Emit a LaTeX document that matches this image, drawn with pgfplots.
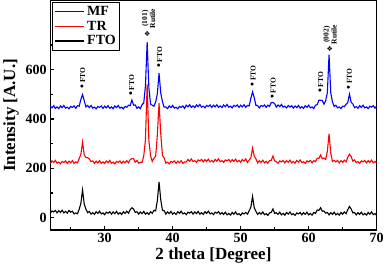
\documentclass[border=0pt]{standalone}
\usepackage{pgfplots}
\pgfplotsset{compat=1.18}
\usepackage{pgfplotstable}
\usepackage{fontspec}
\setmainfont{Liberation Serif}
\newfontfamily\symfont{DejaVu Sans}

\pgfplotstableread{
x mf tr fto
22.00 452 219 17
22.25 445 230 27
22.50 454 223 23
22.75 443 232 29
23.00 449 221 19
23.25 442 225 28
23.50 453 218 21
23.75 446 228 30
24.00 455 224 19
24.25 444 230 25
24.50 448 220 18
24.75 441 229 29
25.00 451 222 22
25.25 447 231 26
25.50 453 220 15
25.75 443 226 19
26.00 454 222 16
26.25 452 239 33
26.50 479 256 58
26.75 499 306 112
27.00 474 254 54
27.25 449 244 34
27.50 455 243 20
27.75 446 238 25
28.00 455 227 14
28.25 444 230 20
28.50 448 220 13
28.75 441 229 24
29.00 451 222 17
29.25 447 231 26
29.50 453 220 15
29.75 443 226 19
30.00 452 219 12
30.25 445 230 22
30.50 454 223 18
30.75 443 232 24
31.00 449 221 14
31.25 442 225 23
31.50 453 218 16
31.75 446 228 25
32.00 455 224 14
32.25 444 230 20
32.50 448 220 13
32.75 441 229 24
33.00 451 222 17
33.25 447 231 26
33.50 456 222 18
33.75 454 235 32
34.00 477 239 40
34.25 456 239 35
34.50 457 225 21
34.75 443 232 24
35.00 449 221 14
35.25 442 225 23
35.50 458 224 16
35.75 465 250 25
36.00 535 317 14
36.25 712 540 20
36.50 528 313 13
36.75 460 251 24
37.00 456 228 17
37.25 452 241 30
37.50 469 249 27
37.75 503 336 69
38.00 586 464 145
38.25 505 340 72
38.50 470 252 30
38.75 448 242 28
39.00 449 221 14
39.25 442 225 23
39.50 453 218 16
39.75 446 228 25
40.00 455 224 14
40.25 444 230 20
40.50 448 220 13
40.75 441 229 24
41.00 451 222 17
41.25 447 231 26
41.50 453 220 15
41.75 443 226 19
42.00 456 225 12
42.25 449 236 22
42.50 458 229 18
42.75 447 238 24
43.00 453 227 14
43.25 446 231 23
43.50 457 224 16
43.75 450 234 25
44.00 459 230 14
44.25 448 236 20
44.50 452 226 13
44.75 445 235 24
45.00 455 228 17
45.25 451 237 26
45.50 457 226 15
45.75 447 232 19
46.00 456 225 12
46.25 449 236 22
46.50 458 229 18
46.75 447 238 24
47.00 453 227 14
47.25 446 231 20
47.50 457 224 13
47.75 450 234 22
48.00 459 230 11
48.25 448 236 17
48.50 452 226 10
48.75 445 235 21
49.00 455 228 14
49.25 451 237 23
49.50 457 226 12
49.75 447 232 16
50.00 456 225 9
50.25 449 236 19
50.50 458 229 15
50.75 447 238 21
51.00 455 223 14
51.25 453 233 28
51.50 484 243 42
51.75 510 282 86
52.00 486 249 40
52.25 455 238 25
52.50 454 222 13
52.75 445 231 21
53.00 455 224 14
53.25 451 233 23
53.50 457 222 12
53.75 447 228 16
54.00 456 221 9
54.25 451 232 19
54.50 467 232 21
54.75 467 250 35
55.00 462 230 17
55.25 448 227 20
55.50 457 220 13
55.75 450 230 22
56.00 459 226 11
56.25 448 232 17
56.50 452 222 10
56.75 445 231 21
57.00 455 224 14
57.25 448 233 23
57.50 454 222 12
57.75 444 228 16
58.00 453 221 9
58.25 446 232 19
58.50 455 225 15
58.75 444 234 21
59.00 450 223 11
59.25 443 227 20
59.50 454 220 13
59.75 447 230 22
60.00 456 226 11
60.25 445 232 17
60.50 449 222 10
60.75 442 231 21
61.00 456 227 17
61.25 458 241 31
61.50 476 240 29
61.75 476 254 40
62.00 475 239 26
62.25 460 242 27
62.50 474 236 18
62.75 507 269 21
63.00 661 340 11
63.25 506 262 20
63.50 469 228 13
63.75 451 232 22
64.00 456 226 11
64.25 445 232 17
64.50 449 222 10
64.75 442 231 21
65.00 452 224 14
65.25 450 233 23
65.50 460 226 16
65.75 466 244 32
66.00 501 257 45
66.25 468 248 35
66.50 461 229 19
66.75 446 234 21
67.00 450 223 11
67.25 443 227 20
67.50 454 220 13
67.75 447 230 22
68.00 456 226 11
68.25 445 232 17
68.50 449 222 10
68.75 442 231 21
69.00 452 224 14
69.25 448 233 23
69.50 454 222 12
69.75 444 228 16
70.00 453 221 9
}\xrd

\begin{document}
\begin{tikzpicture}
\begin{axis}[
  scale only axis, width=326pt, height=229pt,
  xmin=22, xmax=70, ymin=-50, ymax=880,
  xtick={30,40,50,60,70}, minor xtick={25,35,45,55,65},
  ytick={0,200,400,600}, minor ytick={100,300,500,700},
  tick pos=left, tick align=inside,
  major tick length=4pt, minor tick length=2.5pt,
  axis line style={line width=1.3pt},
  every tick/.style={line width=1.1pt, black},
  ticklabel style={font=\fontsize{14}{14}\selectfont\bfseries},
  /pgf/number format/assume math mode=true,
  xlabel={2 theta [Degree]}, ylabel={Intensity [A.U.]},
  label style={font=\fontsize{17}{17}\selectfont\bfseries},
  xlabel style={yshift=2pt},
  legend style={at={(0.006,0.995)}, anchor=north west,
    font=\fontsize{14}{15}\selectfont\bfseries, draw=black, line width=0.9pt,
    row sep=0pt, inner sep=2pt},
  legend cell align=left,
  legend image code/.code={\draw[#1, line width=1.5pt] (0pt,0pt) -- (29pt,0pt);},
]
\addplot[blue, line width=1.1pt] table[x=x, y=mf] {\xrd};
\addlegendentry{MF}
\addplot[red, line width=1.1pt] table[x=x, y=tr] {\xrd};
\addlegendentry{TR}
\addplot[black, line width=1.1pt] table[x=x, y=fto] {\xrd};
\addlegendentry{FTO}

\tikzset{ann/.style={rotate=90, anchor=west, inner sep=0.5pt, font=\fontsize{7.5}{8}\selectfont\bfseries}}
\newcommand{\dotfto}{{\fontsize{11}{11}\selectfont\raisebox{-0.3pt}{•}} FTO}
\node[ann] at (axis cs:26.8,520) {\dotfto};
\node[ann] at (axis cs:34.0,491) {\dotfto};
\node[ann] at (axis cs:38.1,605) {\dotfto};
\node[ann] at (axis cs:51.85,528) {\dotfto};
\node[ann] at (axis cs:54.8,479) {\dotfto};
\node[ann] at (axis cs:61.8,503) {\dotfto};
\node[ann] at (axis cs:66.0,516) {\dotfto};
\node[ann, align=center] at (axis cs:36.45,765) {(101)\\Rutile};
\node[ann, align=center] at (axis cs:63.15,700) {(002)\\Rutile};
\node[inner sep=0pt, font=\symfont\fontsize{7}{7}\selectfont] at (axis cs:36.25,743) {❖};
\node[inner sep=0pt, font=\symfont\fontsize{7}{7}\selectfont] at (axis cs:63.1,684) {❖};
\end{axis}
\end{tikzpicture}
\end{document}
